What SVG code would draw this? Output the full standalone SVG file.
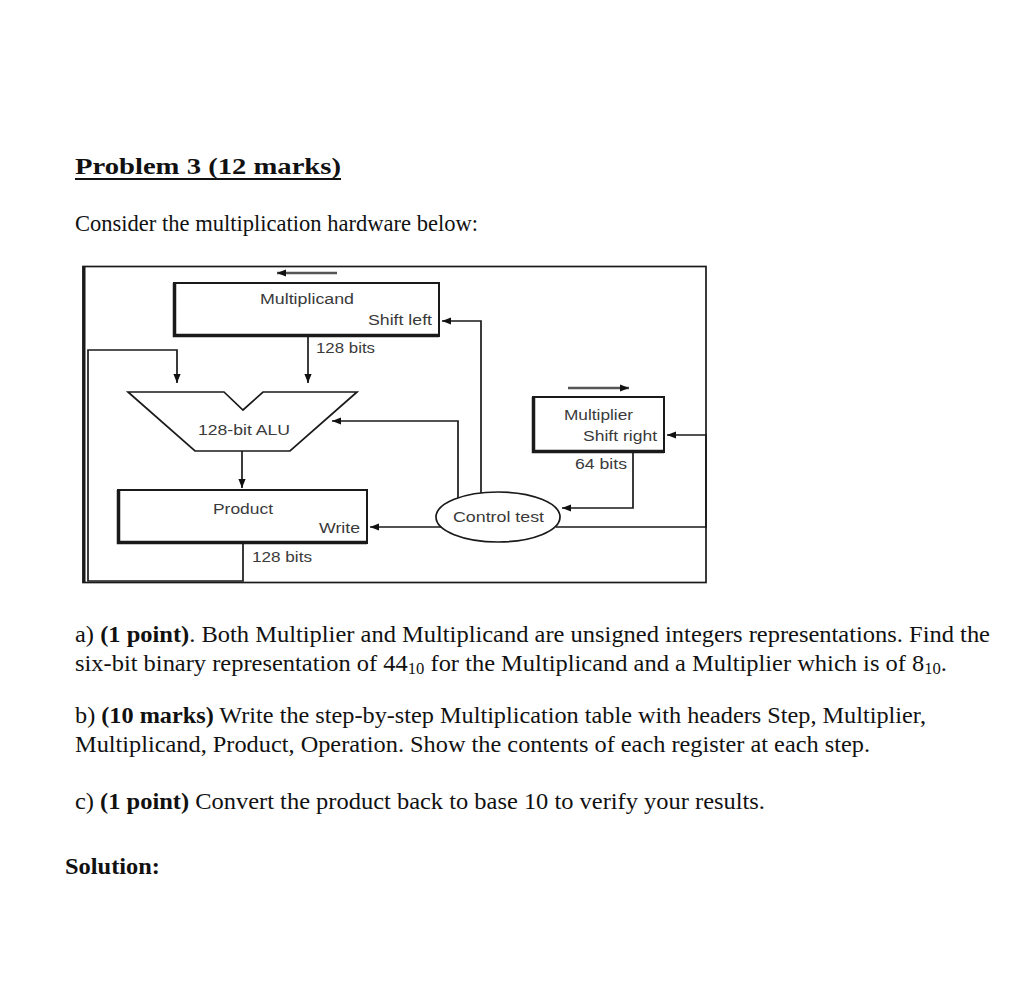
<svg xmlns="http://www.w3.org/2000/svg" width="1024" height="983" viewBox="0 0 1024 983">
<style>
.doc{font-family:"Liberation Serif","Times New Roman",serif;font-size:23.5px;fill:#111}
.b{font-weight:bold}
.lbl{font-family:"Liberation Sans",Arial,sans-serif;font-size:14px;fill:#3a3a3a}
.box{fill:#fff;stroke:#1a1a1a;stroke-width:2}
.thk{stroke:#1a1a1a;stroke-width:3.5;fill:none}
.con{fill:none;stroke:#1a1a1a;stroke-width:1.7}
.sub{font-size:16px}
</style>
<defs>
<marker id="ah" viewBox="0 0 10 10" refX="10" refY="5" markerWidth="12" markerHeight="9" markerUnits="userSpaceOnUse" orient="auto">
<path d="M0,1 L10,5 L0,9 Z" fill="#111"/>
</marker>
</defs>
<rect width="1024" height="983" fill="#fff"/>

<g id="title">
<text class="doc b" x="75" y="174" font-size="28" textLength="266" lengthAdjust="spacingAndGlyphs">Problem 3 (12 marks)</text>
<line x1="75" y1="179" x2="341" y2="179" stroke="#111" stroke-width="2.2"/>
</g>
<text class="doc" x="75" y="231" textLength="403" lengthAdjust="spacingAndGlyphs">Consider the multiplication hardware below:</text>

<g id="frame">
<rect x="83" y="266.5" width="623" height="316" fill="none" stroke="#1a1a1a" stroke-width="1.7"/>
<line x1="84" y1="266" x2="84" y2="583" stroke="#1a1a1a" stroke-width="3"/>
</g>

<g id="connectors">
<line x1="337" y1="273" x2="277" y2="273" stroke="#555" stroke-width="2.4" marker-end="url(#ah)"/>
<line class="con" x1="308" y1="336" x2="308" y2="383" stroke-width="2.2" marker-end="url(#ah)"/>
<polyline class="con" points="243,543 243,581 88,581 88,350 177,350 177,383" stroke-width="2.6" marker-end="url(#ah)"/>
<line class="con" x1="242" y1="451" x2="242" y2="488" stroke-width="2.6" marker-end="url(#ah)"/>
<polyline class="con" points="458,498 458,421 332,421" marker-end="url(#ah)"/>
<polyline class="con" points="481,493 481,321 442,321" marker-end="url(#ah)"/>
<line class="con" x1="441" y1="527" x2="370" y2="527" marker-end="url(#ah)"/>
<polyline class="con" points="556,527 706,527 706,435 667,435" marker-end="url(#ah)"/>
<polyline class="con" points="633,452 633,508 562,508" marker-end="url(#ah)"/>
<line x1="568" y1="388" x2="629" y2="388" stroke="#555" stroke-width="2.4" marker-end="url(#ah)"/>
</g>

<g id="multiplicand">
<rect class="box" x="174" y="283" width="265" height="53"/>
<polyline class="thk" points="174.5,283 174.5,335.5 439,335.5"/>
<text class="lbl" x="260" y="304" textLength="94" lengthAdjust="spacingAndGlyphs">Multiplicand</text>
<text class="lbl" x="368" y="325" textLength="64" lengthAdjust="spacingAndGlyphs">Shift left</text>
</g>
<text class="lbl" x="316" y="353" textLength="59" lengthAdjust="spacingAndGlyphs">128 bits</text>

<g id="alu">
<polygon points="128,392 224,392 243,410 263,392 357,392 290,451 195,451" fill="#fff" stroke="#1a1a1a" stroke-width="1.7"/>
<text class="lbl" x="198" y="435" textLength="92" lengthAdjust="spacingAndGlyphs">128-bit ALU</text>
</g>

<g id="product">
<rect class="box" x="118" y="490" width="249" height="53"/>
<polyline class="thk" points="118.5,490 118.5,542.5 367,542.5"/>
<text class="lbl" x="213" y="514" textLength="60" lengthAdjust="spacingAndGlyphs">Product</text>
<text class="lbl" x="319" y="533" textLength="41" lengthAdjust="spacingAndGlyphs">Write</text>
</g>
<text class="lbl" x="252" y="562" textLength="60" lengthAdjust="spacingAndGlyphs">128 bits</text>

<g id="multiplier">
<rect class="box" x="533" y="397" width="131" height="55"/>
<polyline class="thk" points="533.5,397 533.5,451.5 664,451.5"/>
<text class="lbl" x="564" y="420" textLength="69" lengthAdjust="spacingAndGlyphs">Multiplier</text>
<text class="lbl" x="583" y="441" textLength="74" lengthAdjust="spacingAndGlyphs">Shift right</text>
</g>
<text class="lbl" x="575" y="469" textLength="52" lengthAdjust="spacingAndGlyphs">64 bits</text>

<g id="control">
<ellipse cx="498" cy="517" rx="62" ry="25" fill="#fff" stroke="#1a1a1a" stroke-width="1.7"/>
<text class="lbl" x="453" y="522" textLength="91" lengthAdjust="spacingAndGlyphs">Control test</text>
</g>

<g id="questions">
<text class="doc" x="75" y="642" textLength="915" lengthAdjust="spacingAndGlyphs">a) <tspan class="b">(1 point)</tspan>. Both Multiplier and Multiplicand are unsigned integers representations. Find the</text>
<text class="doc" x="75" y="671" textLength="872" lengthAdjust="spacingAndGlyphs">six-bit binary representation of 44<tspan class="sub" dy="3">10</tspan><tspan dy="-3"> for the Multiplicand and a Multiplier which is of 8</tspan><tspan class="sub" dy="3">10</tspan><tspan dy="-3">.</tspan></text>
<text class="doc" x="75" y="723" textLength="851" lengthAdjust="spacingAndGlyphs">b) <tspan class="b">(10 marks)</tspan> Write the step-by-step Multiplication table with headers Step, Multiplier,</text>
<text class="doc" x="75" y="752" textLength="795" lengthAdjust="spacingAndGlyphs">Multiplicand, Product, Operation. Show the contents of each register at each step.</text>
<text class="doc" x="75" y="809" textLength="690" lengthAdjust="spacingAndGlyphs">c) <tspan class="b">(1 point)</tspan> Convert the product back to base 10 to verify your results.</text>
<text class="doc b" x="65" y="874" textLength="95" lengthAdjust="spacingAndGlyphs">Solution:</text>
</g>
</svg>
